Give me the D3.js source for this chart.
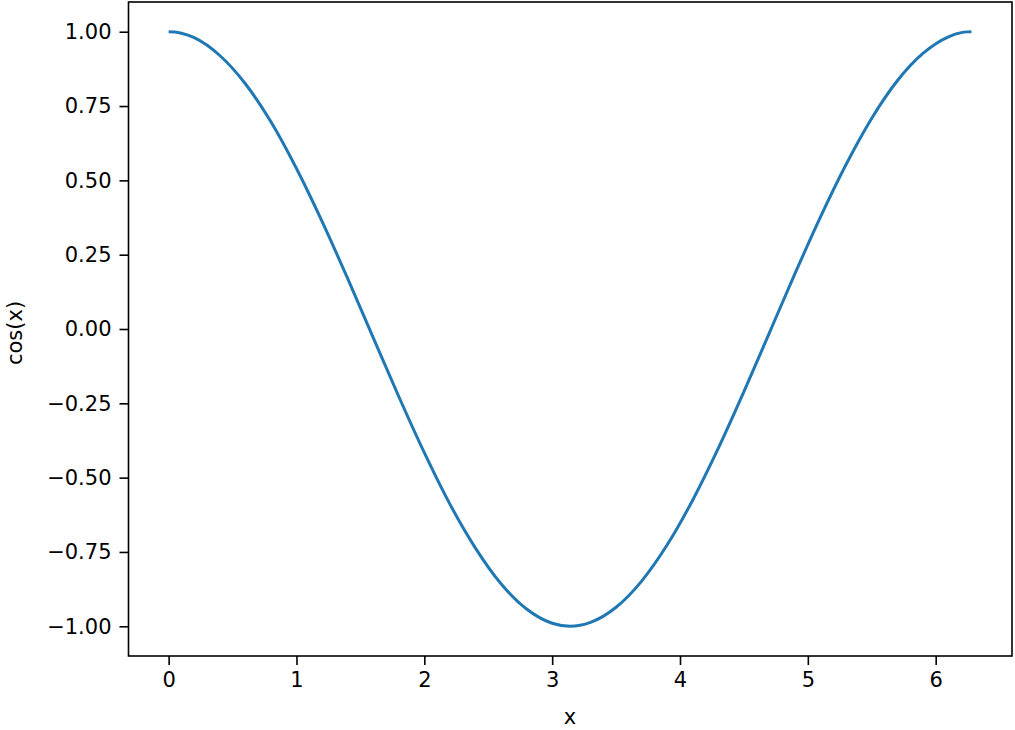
<!DOCTYPE html>
<html>
<head>
<meta charset="utf-8">
<script src="https://cdn.jsdelivr.net/npm/d3@7"></script>
<style>
    body { margin: 0; background: #fff; }
    text { font-family: "DejaVu Sans", sans-serif; }
</style>
</head>
<body>
<div id="chart"></div>
<script>
// values
let xValues = [0, 0.05, 0.1, 0.2, 0.4, 0.6, 0.8, 1.0, 1.2, 1.4, 1.6, 1.8, 2.0, 2.2, 2.4, 2.6, 2.8, 3.0, 3.14,
    3.3, 3.5, 3.7, 3.9, 4.1, 4.3, 4.5, 4.7, 4.9, 5.1, 5.3, 5.5, 5.7, 5.9, 6.1, 6.2, 6.25, 6.28];
let yValues = [1.00, 0.999, 0.995, 0.98, 0.92, 0.825, 0.697, 0.54, 0.362, 0.17, -0.029, -0.227, -0.416, -0.589,
    -0.737, -0.857, -0.942, -0.99, -1.00, -0.987, -0.936, -0.848, -0.726, -0.575, -0.401, -0.211, -0.012,
    0.187, 0.378, 0.554, 0.709, 0.835, 0.927, 0.983, 0.997, 0.9995, 1.00];
let xTicks = [0, 1, 2, 3, 4, 5, 6];
let yTicks = [-1.00, -0.75, -0.50, -0.25, 0.00, 0.25, 0.50, 0.75, 1.00];

let width = 1015, height = 730;
let margin = {top: 2, right: 3, bottom: 74, left: 128.5};
let fontSize = 21;

let svg = d3.select("#chart")
    .append("svg")
    .attr("width", width)
    .attr("height", height);

// matplotlib style 5% padding on the data range
let x = d3.scaleLinear()
    .domain([-0.314, 6.597])
    .range([margin.left, width - margin.right]);

let y = d3.scaleLinear()
    .domain([-1.1, 1.1])
    .range([height - margin.bottom, margin.top]);

let data = xValues.map(function (v, i) {
    return {x: v, y: yValues[i]};
});

let line = d3.line()
    .x(function (d) { return x(d.x); })
    .y(function (d) { return y(d.y); })
    .curve(d3.curveMonotoneX);

svg.append("path")
    .datum(data)
    .attr("fill", "none")
    .attr("stroke", "#1f77b4")
    .attr("stroke-width", 3)
    .attr("d", line);

// X axis
let xAxis = svg.append("g")
    .attr("transform", "translate(0," + (height - margin.bottom) + ")")
    .call(d3.axisBottom(x).tickValues(xTicks).tickSize(9).tickPadding(7).tickFormat(d3.format("d")));

// Y axis
let yAxis = svg.append("g")
    .attr("transform", "translate(" + margin.left + ",0)")
    .call(d3.axisLeft(y).tickValues(yTicks).tickSize(9).tickPadding(8).tickFormat(function (d) {
        return d3.format(".2f")(d).replace("-", "\u2212");
    }));

[xAxis, yAxis].forEach(function (g) {
    g.select(".domain").remove();
    g.selectAll("line").attr("stroke", "#000").attr("stroke-width", 1.6);
    g.selectAll("text").attr("fill", "#000").style("font-size", fontSize + "px")
        .style("font-family", "'DejaVu Sans', sans-serif");
});

// frame
svg.append("rect")
    .attr("x", margin.left)
    .attr("y", margin.top)
    .attr("width", width - margin.right - margin.left)
    .attr("height", height - margin.bottom - margin.top)
    .attr("fill", "none")
    .attr("stroke", "#000")
    .attr("stroke-width", 1.6);

// axis labels
svg.append("text")
    .attr("x", x(3.14))
    .attr("y", 724)
    .style("text-anchor", "middle")
    .style("font-size", fontSize + "px")
    .text("x");

svg.append("text")
    .attr("transform", "rotate(-90)")
    .attr("x", -333)
    .attr("y", 22)
    .style("text-anchor", "middle")
    .style("font-size", fontSize + "px")
    .text("cos(x)");
</script>
</body>
</html>
